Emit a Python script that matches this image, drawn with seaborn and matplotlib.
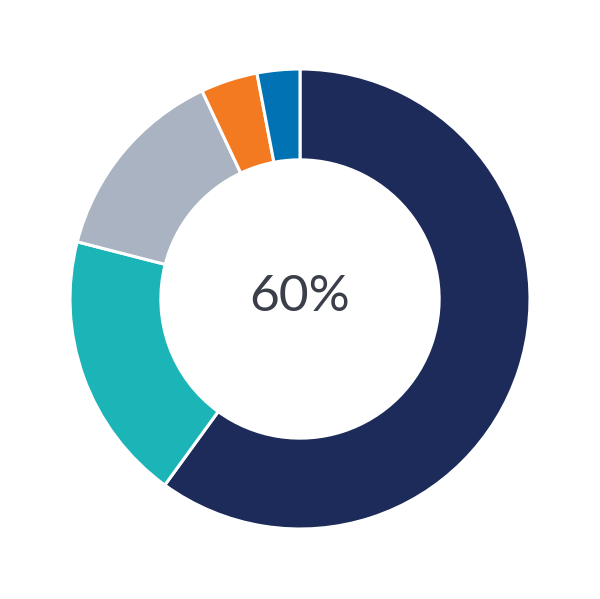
import matplotlib
matplotlib.use("Agg")
import matplotlib.pyplot as plt
import seaborn as sns

# ---------------- DATA ----------------
labels = ["Navy", "Teal", "Gray", "Orange", "Blue"]
shares = [60, 19, 14, 4, 3]
colors = ["#1c2b5a", "#1bb4b7", "#a9b3c1", "#f37a20", "#0172b4"]
center_label = "60%"

# ---------------- VISUALIZATION ----------------
sns.set_theme(style="white")
plt.rcParams["font.family"] = ["Lato", "DejaVu Sans"]

fig = plt.figure(figsize=(6, 5.99), dpi=100)
ax = fig.add_axes([0, 0, 1, 1])

ax.pie(
    shares,
    colors=colors,
    startangle=90,
    counterclock=False,
    radius=1.0,
    wedgeprops=dict(width=0.395, edgecolor="white", linewidth=2.2),
)
ax.text(0, 0.01, center_label, ha="center", va="center",
        fontsize=37, fontweight="normal", color="#3a3f4a")

ax.set_xlim(-300 / 230, 300 / 230)
ax.set_ylim(-300 / 230, 299 / 230)
ax.set_aspect("equal")
ax.axis("off")

fig.savefig("out.png", dpi=100, facecolor="white")
